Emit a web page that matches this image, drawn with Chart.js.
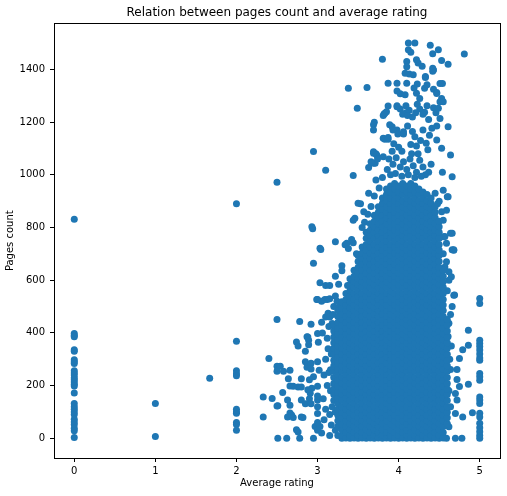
<!DOCTYPE html>
<html>
<head>
<meta charset="utf-8">
<script src="https://cdn.jsdelivr.net/npm/chart.js@4"></script>
<style>
  body { margin: 0; background: #fff; }
  canvas { display: block; }
</style>
</head>
<body>
<canvas id="scatter" width="507" height="496"></canvas>
<script>
// * axis ticks
const ratingTicks = [0, 1, 2, 3, 4, 5];
const pagesTicks = [0, 200, 400, 600, 800, 1000, 1200, 1400];

// * books outside the dense cloud, [average rating, pages]
const lowRatedBooks = [
  [0, 831], [0, 398], [0, 390], [0, 385], [0, 336], [0, 330], [0, 298], [0, 290], [0, 284],
  [0, 256], [0, 248], [0, 240], [0, 230], [0, 222], [0, 214], [0, 205], [0, 198], [0, 172],
  [0, 132], [0, 120], [0, 110], [0, 100], [0, 90], [0, 72], [0, 62], [0, 52], [0, 38], [0, 28], [0, 3],
  [1, 132], [1, 7], [1.67, 228],
  [2, 890], [2, 368], [2, 256], [2, 245], [2, 237], [2, 110], [2, 100], [2, 95], [2, 60], [2, 52], [2, 30],
];

const leftTail = [
  [2.33, 157], [2.33, 81], [2.40, 303], [2.44, 151], [2.50, 972], [2.50, 451], [2.50, 273], [2.54, 273],
  [2.50, 254], [2.58, 254], [2.66, 258], [2.64, 226], [2.66, 198], [2.57, 174], [2.51, 123], [2.63, 145],
  [2.66, 125], [2.63, 81], [2.66, 96], [2.51, 0], [2.62, 0], [2.78, 0], [2.95, 0], [2.76, 24], [2.74, 32],
  [2.76, 195], [2.80, 195], [2.80, 226], [2.78, 443], [2.92, 433], [2.74, 365], [2.76, 350], [2.85, 330],
  [2.87, 385], [2.89, 372], [3.00, 398], [2.85, 290], [2.87, 270], [2.92, 285], [2.95, 233], [2.93, 190],
  [2.91, 171], [2.80, 145], [2.85, 131], [2.80, 81], [2.68, 88], [2.70, 79], [2.82, 79], [2.97, 45],
  [3.03, 45], [3.00, 145], [3.00, 120], [3.00, 94], [3.00, 60], [3.00, 30], [2.95, 1089], [3.10, 1017],
  [2.93, 803], [2.94, 795], [3.03, 721], [2.95, 664], [3.03, 590], [3.00, 527], [3.12, 527], [2.99, 527],
  [3.09, 527], [3.22, 540], [3.13, 475], [3.18, 436], [3.28, 456], [3.14, 424], [2.88, 384], [3.01, 364],
  [2.89, 355], [2.90, 222], [2.92, 263], [3.00, 290], [3.02, 258], [2.70, 197], [2.88, 184], [3.00, 197],
  [3.00, 160], [2.90, 150], [2.92, 131], [2.50, 122], [3.22, 746], [3.04, 717], [3.34, 735], [3.38, 720],
  [3.44, 742], [3.48, 700], [3.30, 655], [3.30, 636], [3.22, 615], [3.10, 580], [3.15, 580], [3.26, 585],
  [3.37, 580], [3.05, 520], [3.15, 530], [3.36, 740], [3.42, 755], [3.44, 828], [3.46, 835], [3.50, 892],
  [3.53, 890], [3.63, 930], [3.57, 860], [3.55, 800], [3.05, 20], [3.08, 70], [3.10, 110], [3.07, 150],
  [3.12, 200], [3.08, 240], [3.10, 300], [3.13, 340], [3.06, 400], [3.15, 10], [3.15, 90], [3.17, 50],
  [3.16, 260], [3.12, 380], [3.05, 440], [3.10, 460], [3.20, 500], [3.25, 10], [3.22, 100], [3.44, 998],
  [3.18, 120], [3.16, 180], [3.14, 250], [3.17, 320], [3.15, 460], [3.22, 30], [3.27, 500], [3.24, 520],
  [3.19, 470], [3.58, 820], [3.62, 850], [3.66, 880], [3.70, 920], [3.76, 950],
];

const rightTail = [
  [4.66, 716], [4.68, 716], [4.62, 632], [4.59, 670], [4.68, 543], [4.66, 500], [4.62, 437], [4.61, 386],
  [4.64, 261], [4.72, 261], [4.72, 223], [4.70, 170], [4.72, 145], [4.64, 120], [4.62, 44], [4.86, 410],
  [4.86, 353], [4.79, 336], [4.75, 303], [4.86, 205], [4.75, 196], [4.91, 97], [4.79, 81], [4.70, 94],
  [4.70, 0], [4.78, 0], [4.59, 0], [4.66, 993], [4.55, 942], [4.60, 917], [4.55, 828], [4.66, 778],
  [4.57, 766], [4.59, 740], [4.68, 714], [4.65, 613], [4.69, 544], [4.61, 917], [4.59, 866], [4.64, 778],
  [4.55, 765], [4.55, 700], [4.57, 650], [4.53, 860], [4.50, 900], [4.64, 1075],
  [4.63, 300], [4.65, 350], [4.62, 180], [4.64, 470], [4.60, 560], [4.62, 600], [4.45, 930], [4.48, 890],
];

const perfectPages = [531, 512, 372, 360, 348, 335, 320, 305, 296, 246, 233, 220, 157, 145, 132, 95, 81, 57, 40, 25, 10, 0];

const upperTail = [
  [3.38, 1329], [3.61, 1332], [3.49, 1253], [3.80, 1439], [4.81, 1459], [3.63, 1028], [3.69, 1044],
  [3.71, 1044], [3.69, 1082], [3.72, 1080], [3.81, 1069], [3.70, 1200], [3.81, 1139], [3.87, 1142],
  [3.82, 1231], [3.87, 1261], [3.98, 1259], [3.92, 1183], [3.98, 1170], [4.06, 1164],
  [4.12, 1501], [4.20, 1501], [4.12, 1475], [4.15, 1465], [4.39, 1492], [4.49, 1475], [4.42, 1460],
  [4.22, 1437], [4.24, 1425], [4.53, 1434], [4.61, 1420], [4.10, 1430], [4.10, 1410], [4.29, 1412],
  [4.42, 1405], [4.42, 1393], [4.08, 1386], [4.13, 1383], [4.18, 1380], [4.33, 1370], [3.87, 1348],
  [3.98, 1348], [4.10, 1348], [4.19, 1330], [4.23, 1345], [4.32, 1329], [4.35, 1342], [4.51, 1347],
  [4.54, 1347], [3.98, 1318], [4.02, 1308], [4.08, 1304], [4.22, 1310], [4.26, 1290], [4.43, 1325],
  [4.47, 1313], [4.53, 1290], [3.85, 1240], [3.81, 1225], [4.02, 1250], [3.98, 1262], [4.09, 1262],
  [4.13, 1245], [4.23, 1268], [4.26, 1250], [4.35, 1262], [4.43, 1255], [4.09, 1236], [4.21, 1236],
  [4.32, 1238], [4.46, 1236], [3.83, 1234], [4.05, 1230], [4.11, 1225], [4.17, 1220], [4.30, 1230],
  [4.37, 1210], [3.69, 1190], [3.69, 1170], [3.89, 1190], [3.93, 1170], [4.11, 1185], [4.17, 1165],
  [4.30, 1170], [4.47, 1185], [3.83, 1135], [3.87, 1135], [3.99, 1155], [4.06, 1155], [4.38, 1150],
  [4.20, 1145], [4.27, 1130], [4.22, 1110], [4.15, 1115], [3.94, 1118], [4.00, 1105], [3.69, 1088],
  [3.73, 1075], [4.34, 1120], [4.36, 1095], [3.66, 1050], [3.74, 1060], [4.40, 1040], [4.37, 1010],
  [4.54, 1010], [3.80, 990], [3.72, 980], [3.88, 1060], [3.93, 1040], [3.97, 1065], [4.02, 1030],
  [4.06, 1050], [4.10, 1020], [4.14, 1060], [4.18, 1035], [4.22, 1010], [4.26, 1055], [4.30, 1030],
  [4.33, 1000], [3.90, 1000], [3.96, 1005], [4.04, 995], [4.12, 1000], [4.20, 990], [4.28, 995],
  [3.86, 1020], [4.16, 1080], [4.04, 1090], [4.24, 1080], [3.92, 1090], [4.43, 1398], [4.33, 1373],
  [4.47, 1309], [4.51, 1278], [4.55, 1278], [4.49, 1253], [4.51, 1214], [4.41, 1177], [4.47, 1132],
  [4.53, 1101], [4.61, 1183],
];

// * dense cloud, read column by column (rating -> pages)
const coreRatings = [3.20, 3.25, 3.30, 3.35, 3.40, 3.45, 3.50, 3.55, 3.60, 3.65, 3.70, 3.75, 3.80, 3.85, 3.90,
  3.95, 4.00, 4.05, 4.10, 4.15, 4.20, 4.25, 4.30, 4.35, 4.40, 4.45, 4.50, 4.55, 4.60];
const corePages = [
  [143, 166, 187, 208, 231, 254, 275, 296, 319, 342, 363, 384, 407, 430],
  [45, 66, 87, 110, 133, 154, 175, 198, 221, 242, 263, 286, 309, 330, 351, 374, 397, 418, 439, 462, 485],
  [0, 11, 32, 55, 78, 99, 120, 143, 166, 187, 208, 231, 254, 275, 296, 319, 342, 363, 384, 407, 430, 451, 472, 495, 518],
  [1, 22, 45, 66, 87, 110, 133, 154, 175, 198, 221, 242, 263, 286, 309, 330, 351, 374, 397, 418, 439, 462, 485, 506, 527, 550],
  [0, 11, 32, 55, 78, 99, 120, 143, 166, 187, 208, 231, 254, 275, 296, 319, 342, 363, 384, 407, 430, 451, 472, 495, 518, 539, 560, 583, 606],
  [1, 22, 45, 66, 87, 110, 133, 154, 175, 198, 221, 242, 263, 286, 309, 330, 351, 374, 397, 418, 439, 462, 485, 506, 527, 550, 573, 594, 615, 638],
  [0, 11, 32, 55, 78, 99, 120, 143, 166, 187, 208, 231, 254, 275, 296, 319, 342, 363, 384, 407, 430, 451, 472, 495, 518, 539, 560, 583, 606, 627, 648, 671, 694],
  [1, 22, 45, 66, 87, 110, 133, 154, 175, 198, 221, 242, 263, 286, 309, 330, 351, 374, 397, 418, 439, 462, 485, 506, 527, 550, 573, 594, 615, 638, 661, 682, 703, 726],
  [0, 11, 32, 55, 78, 99, 120, 143, 166, 187, 208, 231, 254, 275, 296, 319, 342, 363, 384, 407, 430, 451, 472, 495, 518, 539, 560, 583, 606, 627, 648, 671, 694, 715, 736, 759, 782],
  [1, 22, 45, 66, 87, 110, 133, 154, 175, 198, 221, 242, 263, 286, 309, 330, 351, 374, 397, 418, 439, 462, 485, 506, 527, 550, 573, 594, 615, 638, 661, 682, 703, 726, 749, 770, 791, 814],
  [0, 11, 32, 55, 78, 99, 120, 143, 166, 187, 208, 231, 254, 275, 296, 319, 342, 363, 384, 407, 430, 451, 472, 495, 518, 539, 560, 583, 606, 627, 648, 671, 694, 715, 736, 759, 782, 803, 824, 847],
  [1, 22, 45, 66, 87, 110, 133, 154, 175, 198, 221, 242, 263, 286, 309, 330, 351, 374, 397, 418, 439, 462, 485, 506, 527, 550, 573, 594, 615, 638, 661, 682, 703, 726, 749, 770, 791, 814, 837, 858, 879],
  [0, 11, 32, 55, 78, 99, 120, 143, 166, 187, 208, 231, 254, 275, 296, 319, 342, 363, 384, 407, 430, 451, 472, 495, 518, 539, 560, 583, 606, 627, 648, 671, 694, 715, 736, 759, 782, 803, 824, 847, 870, 891, 912],
  [1, 22, 45, 66, 87, 110, 133, 154, 175, 198, 221, 242, 263, 286, 309, 330, 351, 374, 397, 418, 439, 462, 485, 506, 527, 550, 573, 594, 615, 638, 661, 682, 703, 726, 749, 770, 791, 814, 837, 858, 879, 902, 925, 946],
  [0, 11, 32, 55, 78, 99, 120, 143, 166, 187, 208, 231, 254, 275, 296, 319, 342, 363, 384, 407, 430, 451, 472, 495, 518, 539, 560, 583, 606, 627, 648, 671, 694, 715, 736, 759, 782, 803, 824, 847, 870, 891, 912, 935, 958],
  [1, 22, 45, 66, 87, 110, 133, 154, 175, 198, 221, 242, 263, 286, 309, 330, 351, 374, 397, 418, 439, 462, 485, 506, 527, 550, 573, 594, 615, 638, 661, 682, 703, 726, 749, 770, 791, 814, 837, 858, 879, 902, 925, 946, 967],
  [0, 11, 32, 55, 78, 99, 120, 143, 166, 187, 208, 231, 254, 275, 296, 319, 342, 363, 384, 407, 430, 451, 472, 495, 518, 539, 560, 583, 606, 627, 648, 671, 694, 715, 736, 759, 782, 803, 824, 847, 870, 891, 912, 935, 958],
  [1, 22, 45, 66, 87, 110, 133, 154, 175, 198, 221, 242, 263, 286, 309, 330, 351, 374, 397, 418, 439, 462, 485, 506, 527, 550, 573, 594, 615, 638, 661, 682, 703, 726, 749, 770, 791, 814, 837, 858, 879, 902, 925, 946, 967],
  [0, 11, 32, 55, 78, 99, 120, 143, 166, 187, 208, 231, 254, 275, 296, 319, 342, 363, 384, 407, 430, 451, 472, 495, 518, 539, 560, 583, 606, 627, 648, 671, 694, 715, 736, 759, 782, 803, 824, 847, 870, 891, 912, 935, 958],
  [1, 22, 45, 66, 87, 110, 133, 154, 175, 198, 221, 242, 263, 286, 309, 330, 351, 374, 397, 418, 439, 462, 485, 506, 527, 550, 573, 594, 615, 638, 661, 682, 703, 726, 749, 770, 791, 814, 837, 858, 879, 902, 925, 946, 967],
  [0, 11, 32, 55, 78, 99, 120, 143, 166, 187, 208, 231, 254, 275, 296, 319, 342, 363, 384, 407, 430, 451, 472, 495, 518, 539, 560, 583, 606, 627, 648, 671, 694, 715, 736, 759, 782, 803, 824, 847, 870, 891, 912, 935, 958],
  [1, 22, 45, 66, 87, 110, 133, 154, 175, 198, 221, 242, 263, 286, 309, 330, 351, 374, 397, 418, 439, 462, 485, 506, 527, 550, 573, 594, 615, 638, 661, 682, 703, 726, 749, 770, 791, 814, 837, 858, 879, 902, 925, 946],
  [0, 11, 32, 55, 78, 99, 120, 143, 166, 187, 208, 231, 254, 275, 296, 319, 342, 363, 384, 407, 430, 451, 472, 495, 518, 539, 560, 583, 606, 627, 648, 671, 694, 715, 736, 759, 782, 803, 824, 847, 870, 891, 912, 935],
  [1, 22, 45, 66, 87, 110, 133, 154, 175, 198, 221, 242, 263, 286, 309, 330, 351, 374, 397, 418, 439, 462, 485, 506, 527, 550, 573, 594, 615, 638, 661, 682, 703, 726, 749, 770, 791, 814, 837, 858, 879, 902, 925],
  [0, 11, 32, 55, 78, 99, 120, 143, 166, 187, 208, 231, 254, 275, 296, 319, 342, 363, 384, 407, 430, 451, 472, 495, 518, 539, 560, 583, 606, 627, 648, 671, 694, 715, 736, 759, 782, 803, 824, 847, 870, 891, 912],
  [1, 22, 45, 66, 87, 110, 133, 154, 175, 198, 221, 242, 263, 286, 309, 330, 351, 374, 397, 418, 439, 462, 485, 506, 527, 550, 573, 594, 615, 638, 661, 682, 703, 726, 749, 770, 791, 814, 837, 858, 879],
  [0, 11, 32, 55, 78, 99, 120, 143, 166, 187, 208, 231, 254, 275, 296, 319, 342, 363, 384, 407, 430, 451, 472, 495, 518, 539, 560, 583, 606, 627, 648, 671, 694, 715, 736, 759, 782, 803, 824],
  [1, 22, 45, 66, 87, 110, 133, 154, 175, 198, 221, 242, 263, 286, 309, 330, 351, 374, 397, 418, 439, 462, 485, 506, 527, 550, 573, 594, 615, 638],
  [55, 78, 99, 120, 143, 166, 187, 208, 231, 254, 275, 296, 319, 342, 363, 384, 407, 430, 451],
];

// ? gabung semua titik
const points = [];
[...lowRatedBooks, ...leftTail, ...rightTail, ...upperTail].forEach(([r, p]) => points.push({ x: r, y: p }));
perfectPages.forEach((p) => points.push({ x: 5, y: p }));
coreRatings.forEach((r, i) => {
  corePages[i].forEach((p) => points.push({ x: r, y: p }));
});

const tickFont = { family: "DejaVu Sans", size: 10 };

// kotak hitam di sekeliling area plot
const frameBox = {
  id: "frameBox",
  afterDatasetsDraw(chart) {
    const { ctx, chartArea } = chart;
    ctx.save();
    ctx.strokeStyle = "#000";
    ctx.lineWidth = 1;
    ctx.strokeRect(
      Math.round(chartArea.left) + 0.5,
      Math.round(chartArea.top) + 0.5,
      Math.round(chartArea.right - chartArea.left),
      Math.round(chartArea.bottom - chartArea.top)
    );
    ctx.restore();
  },
};

const scatterChart = new Chart(document.getElementById("scatter"), {
  type: "scatter",
  data: {
    datasets: [
      {
        data: points,
        backgroundColor: "#1f77b4",
        borderWidth: 0,
        pointRadius: 3.5,
        pointHoverRadius: 3.5,
        clip: 0,
      },
    ],
  },
  options: {
    responsive: false,
    animation: false,
    devicePixelRatio: 1,
    layout: { padding: { right: 7 } },
    plugins: {
      legend: { display: false },
      tooltip: { enabled: false },
      title: {
        display: true,
        fullSize: false,
        text: "Relation between pages count and average rating",
        color: "#000",
        font: { family: "DejaVu Sans", size: 12, weight: "normal" },
        padding: { top: 6, bottom: 3 },
      },
    },
    scales: {
      x: {
        type: "linear",
        min: -0.25,
        max: 5.25,
        afterBuildTicks: (s) => {
          s.ticks = ratingTicks.map((v) => ({ value: v }));
        },
        afterFit: (s) => {
          s.height = 38;
        },
        border: { display: false },
        grid: { drawOnChartArea: false, drawTicks: true, tickLength: 4, color: "#000" },
        ticks: { color: "#000", font: tickFont, padding: 3, maxRotation: 0, callback: (v) => String(v) },
        title: {
          display: true,
          text: "Average rating",
          color: "#000",
          font: tickFont,
          padding: { top: 4, bottom: 7 },
        },
      },
      y: {
        type: "linear",
        min: -75,
        max: 1575,
        afterBuildTicks: (s) => {
          s.ticks = pagesTicks.map((v) => ({ value: v }));
        },
        afterFit: (s) => {
          s.width = 54;
        },
        border: { display: false },
        grid: { drawOnChartArea: false, drawTicks: true, tickLength: 4, color: "#000" },
        ticks: { color: "#000", font: tickFont, padding: 5, callback: (v) => String(v) },
        title: {
          display: true,
          text: "Pages count",
          color: "#000",
          font: tickFont,
          padding: { top: 4, bottom: 4 },
        },
      },
    },
  },
  plugins: [frameBox],
});
</script>
</body>
</html>
